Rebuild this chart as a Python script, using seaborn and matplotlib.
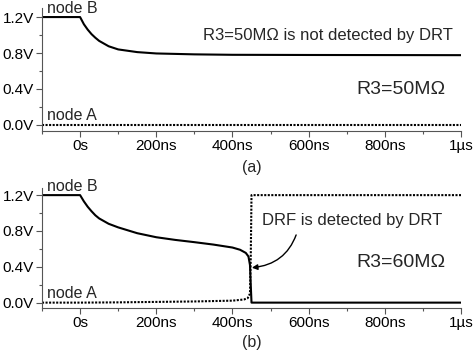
import numpy as np
import pandas as pd
import matplotlib
matplotlib.use('Agg')
import matplotlib.pyplot as plt
import seaborn as sns
from matplotlib.ticker import MultipleLocator, FixedLocator

# panel (a): R3=50MOhm
t_a_B = [-100, 0, 10, 20, 30, 40, 50, 75, 100, 150, 200, 300, 400, 600, 800, 1000]
v_a_B = [1.2, 1.2, 1.12, 1.06, 1.01, 0.97, 0.935, 0.875, 0.84, 0.81, 0.795, 0.785, 0.78, 0.778, 0.777, 0.776]
t_a_A = [-100, 1000]
v_a_A = [0.0, 0.0]

# panel (b): R3=60MOhm
t_b_B = [-100, 0, 10, 20, 30, 40, 50, 75, 100, 150, 200, 250, 300, 350, 400, 420, 435, 442, 446, 448, 450, 1000]
v_b_B = [1.2, 1.2, 1.13, 1.07, 1.02, 0.975, 0.94, 0.88, 0.84, 0.775, 0.73, 0.7, 0.675, 0.648, 0.615, 0.59, 0.555, 0.515, 0.42, 0.2, 0.0, 0.0]
t_b_A = [-100, 0, 100, 200, 300, 400, 430, 440, 446, 448, 450, 1000]
v_b_A = [0.0, 0.0, 0.003, 0.008, 0.013, 0.022, 0.035, 0.05, 0.1, 0.5, 1.2, 1.2]

xtick_vals = [0, 200, 400, 600, 800, 1000]
xtick_labels = ['0s', '200ns', '400ns', '600ns', '800ns', '1µs']
ytick_vals = [0.0, 0.4, 0.8, 1.2]
ytick_labels = ['0.0V', '0.4V', '0.8V', '1.2V']

sns.set_theme(style='ticks')
plt.rcParams['font.family'] = ['Liberation Sans', 'DejaVu Sans']

fig = plt.figure(figsize=(4.74, 3.51), dpi=100)
ax1 = fig.add_axes([0.0886, 0.627, 0.884, 0.350])
ax2 = fig.add_axes([0.0886, 0.1225, 0.884, 0.342])

def style_axis(ax, ylim):
    ax.set_xlim(-100, 1000)
    ax.set_ylim(*ylim)
    sns.despine(ax=ax)
    for s in ['left', 'bottom']:
        ax.spines[s].set_color('#555555')
        ax.spines[s].set_linewidth(0.8)
    ax.xaxis.set_major_locator(FixedLocator(xtick_vals))
    ax.set_xticklabels(xtick_labels)
    ax.xaxis.set_minor_locator(MultipleLocator(100))
    ax.yaxis.set_major_locator(FixedLocator(ytick_vals))
    ax.set_yticklabels(ytick_labels)
    ax.yaxis.set_minor_locator(MultipleLocator(0.2))
    ax.tick_params(which='major', length=4, width=0.8, color='#555555',
                   labelsize=11, pad=2, labelcolor='black')
    ax.tick_params(which='minor', length=2.5, width=0.8, color='#555555')
    ax.set_xlabel('')
    ax.set_ylabel('')

# --- panel a
sns.lineplot(x=t_a_B, y=v_a_B, ax=ax1, color='black', linewidth=1.5, sort=False)
sns.lineplot(x=t_a_A, y=v_a_A, ax=ax1, color='black', linewidth=1.5,
             linestyle=(0, (1, 0.7)), sort=False)
style_axis(ax1, (-0.067, 1.3))
ax1.text(-88, 1.215, 'node B', fontsize=11.5, va='bottom', ha='left')
ax1.text(-88, 0.02, 'node A', fontsize=11.5, va='bottom', ha='left')
ax1.text(650, 0.99, 'R3=50MΩ is not detected by DRT', fontsize=12, ha='center', va='center')
ax1.text(843, 0.39, 'R3=50MΩ', fontsize=14, ha='center', va='center')
fig.text(0.531, 0.522, '(a)', fontsize=11.5, ha='center', va='center')

# --- panel b
sns.lineplot(x=t_b_B, y=v_b_B, ax=ax2, color='black', linewidth=1.5, sort=False)
sns.lineplot(x=t_b_A, y=v_b_A, ax=ax2, color='black', linewidth=1.5,
             linestyle=(0, (1, 0.7)), sort=False)
style_axis(ax2, (-0.06, 1.28))
ax2.text(-88, 1.215, 'node B', fontsize=11.5, va='bottom', ha='left')
ax2.text(-88, 0.02, 'node A', fontsize=11.5, va='bottom', ha='left')
ax2.annotate('DRF is detected by DRT', xy=(451, 0.39), xytext=(715, 0.92),
             fontsize=12, ha='center', va='center',
             arrowprops=dict(arrowstyle='-|>', color='black', lw=1,
                             connectionstyle='arc3,rad=-0.35', relpos=(0.2, 0.0),
                             shrinkA=3, shrinkB=0, mutation_scale=8))
ax2.text(843, 0.45, 'R3=60MΩ', fontsize=14, ha='center', va='center')
fig.text(0.531, 0.023, '(b)', fontsize=11.5, ha='center', va='center')

fig.savefig('out.png', dpi=100)
